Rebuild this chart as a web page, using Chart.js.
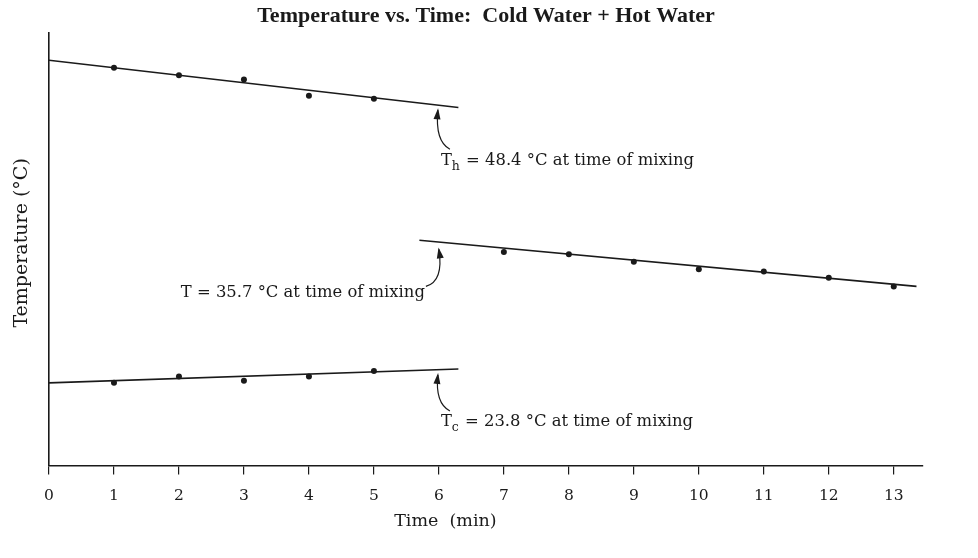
<!DOCTYPE html>
<html>
<head>
<meta charset="utf-8">
<script src="https://cdn.jsdelivr.net/npm/chart.js@4.4.1/dist/chart.umd.min.js"></script>
<style>
  html, body { margin: 0; padding: 0; background: #fff; }
</style>
</head>
<body>
<canvas id="Chart" width="978" height="558"></canvas>
<script>
// measured points (min, °C)
const hotTimes = [1, 2, 3, 4, 5];
const hotTemps = [51.9, 51.2, 50.8, 49.3, 49.0];
const coldTimes = [1, 2, 3, 4, 5];
const coldTemps = [22.5, 23.1, 22.7, 23.1, 23.6];
const mixTimes = [7, 8, 9, 10, 11, 12, 13];
const mixTemps = [34.7, 34.5, 33.8, 33.1, 32.9, 32.3, 31.5];

// hand-drawn best fit lines (end points)
const hotFitTimes = [0, 6.3];
const hotFitTemps = [52.6, 48.2];
const coldFitTimes = [0, 6.3];
const coldFitTemps = [22.5, 23.8];
const mixFitTimes = [5.7, 13.35];
const mixFitTemps = [35.8, 31.5];

const timeTicks = [0, 1, 2, 3, 4, 5, 6, 7, 8, 9, 10, 11, 12, 13];

const mixTime = 6;
const hotAtMix = 48.4;
const coldAtMix = 23.8;
const finalAtMix = 35.7;

const serif = "'DejaVu Serif', 'Liberation Serif', serif";
const ink = '#1a1a1a';

function pts(xs, ys) {
    return xs.map(function (x, i) { return {x: x, y: ys[i]}; });
}

function pointSet(xs, ys) {
    return {data: pts(xs, ys), pointRadius: 3, pointBackgroundColor: ink, pointBorderWidth: 0, showLine: false};
}

function lineSet(xs, ys) {
    return {data: pts(xs, ys), pointRadius: 0, showLine: true, borderColor: ink, borderWidth: 1.6};
}

function arrow(ctx, x0, y0, cx, cy, x1, y1) {
    ctx.beginPath();
    ctx.moveTo(x0, y0);
    ctx.quadraticCurveTo(cx, cy, x1, y1);
    ctx.stroke();
    let a = Math.atan2(y1 - cy, x1 - cx);
    ctx.beginPath();
    ctx.moveTo(x1 + 2 * Math.cos(a), y1 + 2 * Math.sin(a));
    ctx.lineTo(x1 - 9 * Math.cos(a) + 3.5 * Math.sin(a), y1 - 9 * Math.sin(a) - 3.5 * Math.cos(a));
    ctx.lineTo(x1 - 9 * Math.cos(a) - 3.5 * Math.sin(a), y1 - 9 * Math.sin(a) + 3.5 * Math.cos(a));
    ctx.closePath();
    ctx.fill();
}

function subLabel(ctx, x, y, sub, rest) {
    ctx.font = '16.4px ' + serif;
    ctx.fillText('T', x, y);
    let w = ctx.measureText('T').width;
    ctx.font = '12.5px ' + serif;
    ctx.fillText(sub, x + w, y + 5);
    let w2 = ctx.measureText(sub).width;
    ctx.font = '16.4px ' + serif;
    ctx.fillText(rest, x + w + w2 + 1, y);
}

const notes = {
    id: 'notes',
    afterDraw(chart) {
        const ctx = chart.ctx;
        const xs = chart.scales.x, ys = chart.scales.y;
        ctx.save();
        ctx.fillStyle = ink;
        ctx.strokeStyle = ink;
        ctx.lineWidth = 1.2;
        ctx.textBaseline = 'alphabetic';
        ctx.textAlign = 'left';

        let px = xs.getPixelForValue(mixTime);

        // hot
        let hy = ys.getPixelForValue(hotAtMix);
        arrow(ctx, px + 11, hy + 44, px - 4, hy + 36, px - 1, hy + 5);
        subLabel(ctx, px + 2, hy + 60, 'h', ' = ' + hotAtMix + ' °C at time of mixing');

        // cold
        let cy = ys.getPixelForValue(coldAtMix);
        arrow(ctx, px + 11, cy + 42, px - 4, cy + 34, px - 1, cy + 6);
        subLabel(ctx, px + 2, cy + 57, 'c', ' = ' + coldAtMix + ' °C at time of mixing');

        // mixed
        let my = ys.getPixelForValue(finalAtMix);
        arrow(ctx, px - 13, my + 45, px + 5, my + 40, px, my + 8);
        ctx.font = '16.4px ' + serif;
        ctx.textAlign = 'right';
        ctx.fillText('T = ' + finalAtMix + ' °C at time of mixing', px - 14, my + 56);

        // axis titles
        ctx.textAlign = 'center';
        ctx.font = '17.5px ' + serif;
        ctx.fillText('Time  (min)', xs.getPixelForValue(6.1), chart.chartArea.bottom + 61);
        ctx.translate(27, (chart.chartArea.top + chart.chartArea.bottom) / 2 - 6);
        ctx.rotate(-Math.PI / 2);
        ctx.font = '19px ' + serif;
        ctx.fillText('Temperature (°C)', 0, 0);
        ctx.restore();
    }
};

new Chart(document.getElementById('Chart'), {
    type: 'scatter',
    data: {
        datasets: [
            pointSet(hotTimes, hotTemps),
            pointSet(coldTimes, coldTemps),
            pointSet(mixTimes, mixTemps),
            lineSet(hotFitTimes, hotFitTemps),
            lineSet(coldFitTimes, coldFitTemps),
            lineSet(mixFitTimes, mixFitTemps)
        ]
    },
    options: {
        responsive: false,
        animation: false,
        layout: {padding: {left: 49, right: 55, top: 0, bottom: 41}},
        plugins: {
            legend: {display: false},
            tooltip: {enabled: false},
            title: {
                display: true,
                text: 'Temperature vs. Time:  Cold Water + Hot Water',
                color: ink,
                font: {family: "'Liberation Serif', serif", size: 22, weight: 'bold'},
                padding: {top: 3, bottom: 3}
            }
        },
        scales: {
            x: {
                type: 'linear',
                min: 0,
                max: 13.45,
                afterBuildTicks: function (scale) {
                    scale.ticks = timeTicks.map(function (v) { return {value: v}; });
                },
                border: {color: ink, width: 1.6},
                grid: {drawOnChartArea: false, drawTicks: true, tickLength: 9, color: ink, lineWidth: 1.2},
                ticks: {
                    color: ink,
                    padding: 12,
                    font: {family: serif, size: 15.5}
                }
            },
            y: {
                type: 'linear',
                min: 14.8,
                max: 55.2,
                border: {color: ink, width: 1.6},
                grid: {drawOnChartArea: false, drawTicks: false},
                ticks: {display: false}
            }
        }
    },
    plugins: [notes]
});
</script>
</body>
</html>
